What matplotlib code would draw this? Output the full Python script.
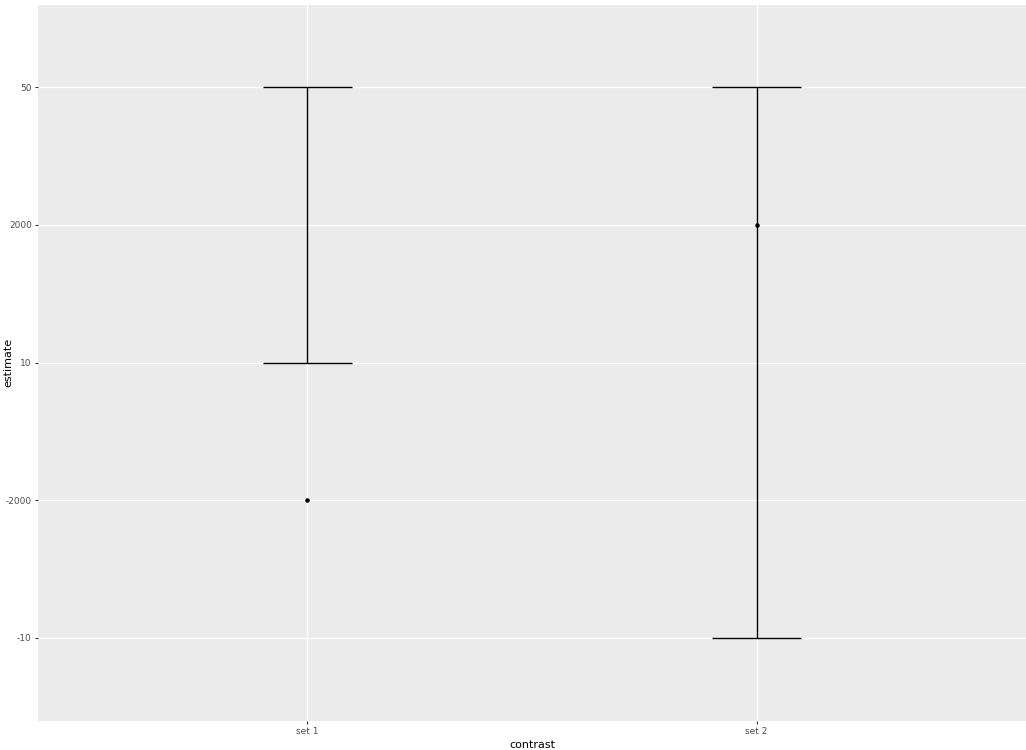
import matplotlib
matplotlib.use("Agg")
import matplotlib.pyplot as plt

# discrete y levels (sorted as strings, like ggplot factors)
y_levels = ["-10", "-2000", "10", "2000", "50"]
contrast = ["set 1", "set 2"]
estimate = ["-2000", "2000"]
lower = ["10", "-10"]
upper = ["50", "50"]

ypos = {lv: i + 1 for i, lv in enumerate(y_levels)}
xpos = {c: i + 1 for i, c in enumerate(contrast)}

W, H = 1026, 750
fig = plt.figure(figsize=(W / 100, H / 100), dpi=100)
left, right, top, bottom = 38, 1026, 4.5, 720.5
ax = fig.add_axes([left / W, 1 - bottom / H, (right - left) / W, (bottom - top) / H])
ax.set_facecolor("#EBEBEB")
for s in ax.spines.values():
    s.set_visible(False)

ax.set_xlim(0.4, 2.6)
ax.set_ylim(0.4, 5.6)
ax.set_xticks(range(1, len(contrast) + 1))
ax.set_xticklabels(contrast)
ax.set_yticks(range(1, len(y_levels) + 1))
ax.set_yticklabels(y_levels)
ax.grid(True, color="white", linewidth=1.0)
ax.set_axisbelow(True)
ax.tick_params(colors="#333333", labelcolor="#4D4D4D", labelsize=6.5, length=2.5, width=0.8, pad=2)

for c, e, lo, hi in zip(contrast, estimate, lower, upper):
    x = xpos[c]
    ax.vlines(x, ypos[lo], ypos[hi], color="black", linewidth=1.0, zorder=3)
    ax.hlines([ypos[lo], ypos[hi]], x - 0.1, x + 0.1, color="black", linewidth=1.0, zorder=3)
    ax.scatter([x], [ypos[e]], s=5, color="black", zorder=4)

ax.set_xlabel("contrast", fontsize=8, color="black", labelpad=3)
ax.set_ylabel("estimate", fontsize=8, color="black")
ax.yaxis.set_label_coords(-(left - 13) / (right - left), 0.5)

fig.savefig("out.png", dpi=100)
